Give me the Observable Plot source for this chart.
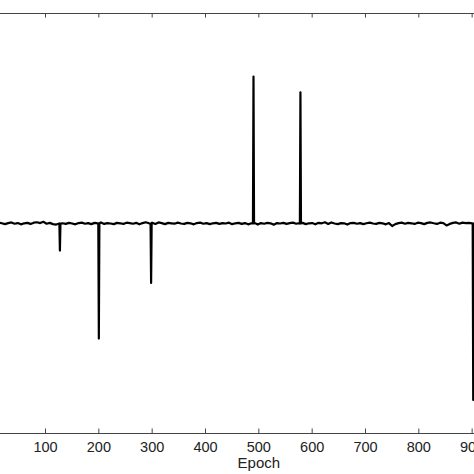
<!DOCTYPE html>
<html>
<head>
<meta charset="utf-8">
<script src="https://cdn.jsdelivr.net/npm/d3@7"></script>
<script src="https://cdn.jsdelivr.net/npm/@observablehq/plot@0.6"></script>
<style>
  html, body { margin: 0; padding: 0; background: #fff; overflow: hidden; }
  svg { overflow: hidden !important; }
</style>
</head>
<body>
<div id="chart"></div>
<script>
// Baseline noise, sampled every 6 epochs from epoch 0
const noiseStep = 6;
const noiseValues = [
  0.003, -0.002, 0.004, 0.001, -0.003, 0.002, 0.005, -0.001, 0.002, -0.004,
  0.001, 0.003, -0.002, 0.004, 0.006, 0.002, 0.008, -0.001, 0.003, -0.003,
  -0.005, 0.002, 0.001, -0.002, 0.003, 0.000, -0.004, 0.002, 0.004, -0.001,
  0.002, -0.003, 0.003, 0.001, 0.005, -0.002, 0.002, 0.000, -0.003, 0.003,
  0.001, -0.002, 0.004, 0.002, -0.001, 0.003, -0.004, 0.002, 0.006, 0.001,
  0.004, -0.002, 0.005, 0.002, -0.003, 0.003, 0.001, -0.001, 0.004, 0.000,
  -0.002, 0.003, 0.001, -0.004, 0.002, 0.004, -0.001, 0.002, -0.003, 0.001,
  0.003, -0.002, 0.002, 0.000, 0.004, -0.003, 0.001, 0.003, -0.002, 0.002,
  -0.004, 0.001, 0.003, -0.005, 0.002, -0.001, 0.003, 0.001, -0.006, 0.002,
  0.000, 0.003, -0.002, 0.002, 0.004, -0.001, 0.002, 0.003, -0.003, 0.001,
  0.002, -0.004, 0.003, 0.001, 0.006, -0.002, 0.005, 0.000, -0.003, 0.002,
  0.001, -0.005, 0.002, 0.003, -0.001, 0.002, -0.003, 0.001, 0.004, 0.000,
  -0.002, 0.003, 0.001, -0.004, 0.002, -0.012, -0.003, 0.002, 0.004, -0.001,
  0.003, 0.001, -0.002, 0.004, 0.002, -0.003, 0.003, 0.005, 0.001, -0.002,
  0.004, 0.002, -0.009, -0.002, 0.003, 0.005, -0.001, 0.004, 0.002, 0.003,
  0.001, -0.002, 0.003, 0.000, 0.002, -0.003, 0.001, 0.002, -0.001, 0.003,
  0.000, 0.002, -0.002, 0.001, 0.003, -0.001, 0.002
];
// Spikes
const spikeEpochs = [127, 200, 298, 490, 578, 902];
const spikeValues = [-0.129, -0.548, -0.283, 0.700, 0.625, -0.840];
// Axis ticks
const xTicks = [0, 100, 200, 300, 400, 500, 600, 700, 800, 900, 1000];
const xLabel = "Epoch";

const data = [];
noiseValues.forEach((v, i) => {
  const e = i * noiseStep;
  if (!spikeEpochs.some(s => Math.abs(s - e) <= 1)) data.push({epoch: e, value: v});
});
spikeEpochs.forEach((e, i) => {
  data.push({epoch: e - 1, value: 0});
  data.push({epoch: e, value: spikeValues[i]});
  data.push({epoch: e + 1, value: 0});
});
data.sort((a, b) => a.epoch - b.epoch);

const W = 474, H = 474, mTop = 13, mBottom = 41;
const yDom = [-1, 1];
const pxY = (yDom[1] - yDom[0]) / (H - mTop - mBottom);
const tickLen = 4.5 * pxY;

const chart = Plot.plot({
  width: W,
  height: H,
  marginLeft: 0,
  marginRight: 0,
  marginTop: mTop,
  marginBottom: mBottom,
  style: {fontFamily: "'Liberation Sans', Arial, Helvetica, sans-serif", background: "#fff"},
  x: {domain: [15.6, 904.4]},
  y: {domain: yDom, axis: null},
  marks: [
    Plot.ruleY([yDom[1]], {stroke: "#444", strokeWidth: 1.2}),
    Plot.ruleY([yDom[0]], {stroke: "#444", strokeWidth: 1.2}),
    Plot.ruleX(xTicks, {x: d => d, y1: yDom[1], y2: yDom[1] - tickLen, stroke: "#444", strokeWidth: 1}),
    Plot.ruleX(xTicks, {x: d => d, y1: yDom[0], y2: yDom[0] + tickLen, stroke: "#444", strokeWidth: 1}),
    Plot.axisX({
      anchor: "bottom",
      ticks: xTicks.filter(t => t > 0 && t < 1000),
      tickSize: 0,
      tickPadding: 8,
      fontSize: 14.5,
      fill: "#222",
      label: null
    }),
    Plot.text([{x: 500}], {x: "x", text: () => xLabel, frameAnchor: "bottom", lineAnchor: "bottom", dy: 34, fontSize: 15, fill: "#222"}),
    Plot.line(data, {x: "epoch", y: "value", stroke: "#000", strokeWidth: 2.2, strokeLinejoin: "round", clip: true})
  ]
});
document.getElementById("chart").appendChild(chart);
</script>
</body>
</html>
